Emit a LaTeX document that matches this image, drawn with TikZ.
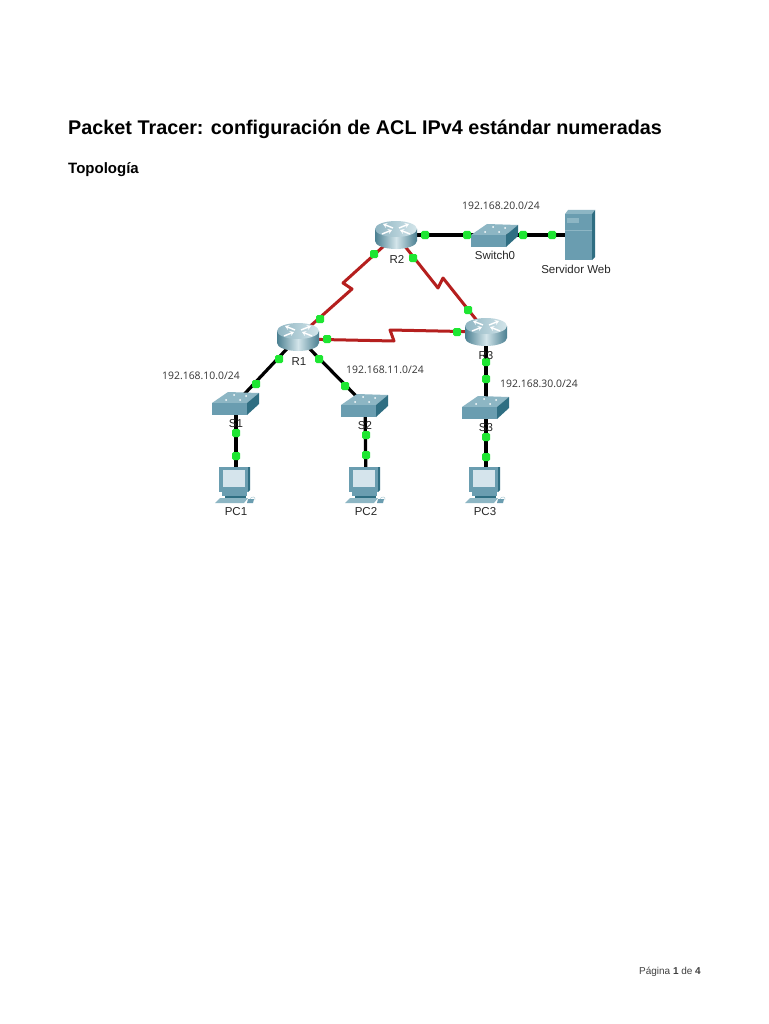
\documentclass[tikz,border=0pt]{standalone}
\usepackage{fontspec}
\setmainfont{Liberation Sans}
\newfontfamily\netfont{Open Sans}
\usetikzlibrary{arrows.meta}

\definecolor{routerlight}{HTML}{D3E5EA}
\definecolor{routermid}{HTML}{8FB5C2}
\definecolor{routerdark}{HTML}{4A7F91}
\definecolor{facefront}{HTML}{6A9DB0}
\definecolor{facetop}{HTML}{8DB6C4}
\definecolor{faceside}{HTML}{2F6E82}
\definecolor{screenlight}{HTML}{D5E4EC}
\definecolor{wanred}{HTML}{B51F1E}
\definecolor{lampgreen}{HTML}{1EE632}

\tikzset{
    router icon/.pic={
        \path[left color=routerdark,right color=routerdark,middle color=routerlight]
            (-21,-6) -- (-21,6) arc[start angle=180,end angle=0,x radius=21,y radius=8] -- (21,-6) -- cycle;
        \path[left color=routermid,right color=routerlight] (0,-6) ellipse[x radius=21,y radius=8];
        \foreach \dx/\dy in {-1/-1,1/-1}{
            \draw[white,line width=1.4pt,-{Stealth[length=4pt,width=5pt]}] (\dx*3,\dy*1-6) -- (\dx*13,\dy*5-6);
        }
        \foreach \dx/\dy in {-1/1,1/1}{
            \draw[white,line width=1.4pt,-{Stealth[length=4pt,width=5pt]}] (\dx*14,\dy*5-6) -- (\dx*4,\dy*1-6);
        }
    },
    switch icon/.pic={
        \fill[facetop] (-24,0) -- (-8,-11) -- (23,-10) -- (11,0) -- cycle;
        \fill[facefront] (-24,0) rectangle (11,12);
        \fill[faceside] (11,0) -- (23,-10) -- (23,1) -- (11,12) -- cycle;
        \foreach \dx/\dy in {-10/-3,-2/-8,4/-3,10/-7}{
            \fill[white] (\dx,\dy) circle[radius=1];
        }
    },
    server icon/.pic={
        \fill[facetop] (-15,-21) -- (-12,-25) -- (15,-25) -- (12,-21) -- cycle;
        \fill[facefront] (-15,-21) rectangle (12,25);
        \fill[faceside] (12,-21) -- (15,-25) -- (15,22) -- (12,25) -- cycle;
        \fill[facetop] (-13,-17) rectangle (-1,-12);
        \draw[facetop,line width=.4pt] (-15,-5) -- (12,-5);
    },
    desktop icon/.pic={
        \fill[faceside] (12,-18) -- (14,-18) -- (14,5) -- (12,7) -- cycle;
        \fill[facefront] (-17,-18) rectangle (12,7);
        \fill[screenlight] (-13,-15) rectangle (9,2);
        \fill[facefront] (-14,7) rectangle (11,11);
        \fill[faceside] (-11,11) rectangle (10,13);
        \fill[facetop] (-16,13) -- (12,13) -- (8,18) -- (-21,18) -- cycle;
        \draw[facetop!70!white,line width=.5pt] (13,15) .. controls (16,10) and (20,12) .. (19,15);
        \fill[facefront] (12,14) -- (18,14) -- (17,18) -- (11,18) -- cycle;
    },
}

\begin{document}
\begin{tikzpicture}[x=1pt,y=-1pt,
    device/.style={inner sep=0pt,minimum size=0pt},
    lan/.style={black,line width=3.2pt},
    wan/.style={wanred,line width=3pt,line join=round},
    lamp/.style={fill=lampgreen,rounded corners=1.5pt,minimum size=8pt,inner sep=0pt},
    tag/.style={font=\fontsize{11.5}{13}\selectfont,text=black!85,inner sep=0pt},
    net/.style={font=\netfont\fontsize{10.4}{12}\selectfont,text=black!80,inner sep=0pt},
    ]

    \fill[white] (0,0) rectangle (768,1024);
    \useasboundingbox (0,0) rectangle (768,1024);

    \node[anchor=base west,inner sep=0pt,font=\bfseries\fontsize{19.8}{24}\selectfont] (title) at (68,135) {Packet Tracer: configuración de ACL IPv4 estándar numeradas};
    \node[anchor=base west,inner sep=0pt,font=\bfseries\fontsize{15}{17}\selectfont] (topo) at (68,174) {Topología};

    % devices
    \foreach \name/\x/\y in {R1/298/337,R2/396/235,R3/486/332,Switch0/495/235,Web/580/235,S1/236/403,S2/365/405,S3/486/407,PC1/236/485,PC2/366/485,PC3/486/485}{
        \node[device] (\name) at (\x,\y) {};
    }

    % zigzag points of the serial links
    \coordinate (a1) at (352,289);
    \coordinate (a2) at (343,283);
    \coordinate (b1) at (438,288);
    \coordinate (b2) at (443,278);
    \coordinate (c0) at (298,339);
    \coordinate (c1) at (394,341);
    \coordinate (c2) at (390,330);

    \draw[wan] (R1.center) -- (a1) -- (a2) -- (R2.center);
    \draw[wan] (R2.center) -- (b1) -- (b2) -- (R3.center);
    \draw[wan] (R1.center) -- (c0) -- (c1) -- (c2) -- (R3.center);

    \foreach \from/\to in {R2/Switch0,Switch0/Web,R1/S1,R1/S2,R3/S3,S1/PC1,S2/PC2,S3/PC3}{
        \draw[lan] (\from.center) -- (\to.center);
    }

    \foreach \name in {R1,R2,R3}{
        \pic at (\name) {router icon};
    }
    \foreach \name in {Switch0,S1,S2,S3}{
        \pic at (\name) {switch icon};
    }
    \pic at (Web) {server icon};
    \foreach \name in {PC1,PC2,PC3}{
        \pic at (\name) {desktop icon};
    }

    \foreach \name/\x/\y in {l1/320/319,l2/374/254,l3/413/258,l4/468/310,l5/327/339,l6/457/332,l7/425/235,l8/467/235,l9/523/235,l10/552/235,l11/279/359,l12/256/384,l13/319/359,l14/345/386,l15/236/433,l16/236/456,l17/366/435,l18/366/455,l19/486/362,l20/486/379,l21/486/437,l22/486/457}{
        \node[lamp] (\name) at (\x,\y) {};
    }

    \foreach \name/\x/\y/\txt in {t1/299/362/R1,t2/397/259/R2,t3/486/356/R3,t4/495/255/Switch0,t5/576/269/Servidor Web,t6/236/424/S1,t7/365/426/S2,t8/486/428/S3,t9/236/512/PC1,t10/366/512/PC2,t11/485/512/PC3}{
        \node[tag] (\name) at (\x,\y) {\txt};
    }

    \foreach \name/\x/\y/\txt in {n1/201/376/{192.168.10.0/24},n2/385/370/{192.168.11.0/24},n3/501/206/{192.168.20.0/24},n4/539/384/{192.168.30.0/24}}{
        \node[net] (\name) at (\x,\y) {\txt};
    }

    \node[anchor=base east,inner sep=0pt,text=black!75,font=\fontsize{10}{12}\selectfont] (foot) at (701,974) {Página \textbf{1} de \textbf{4}};

\end{tikzpicture}
\end{document}
